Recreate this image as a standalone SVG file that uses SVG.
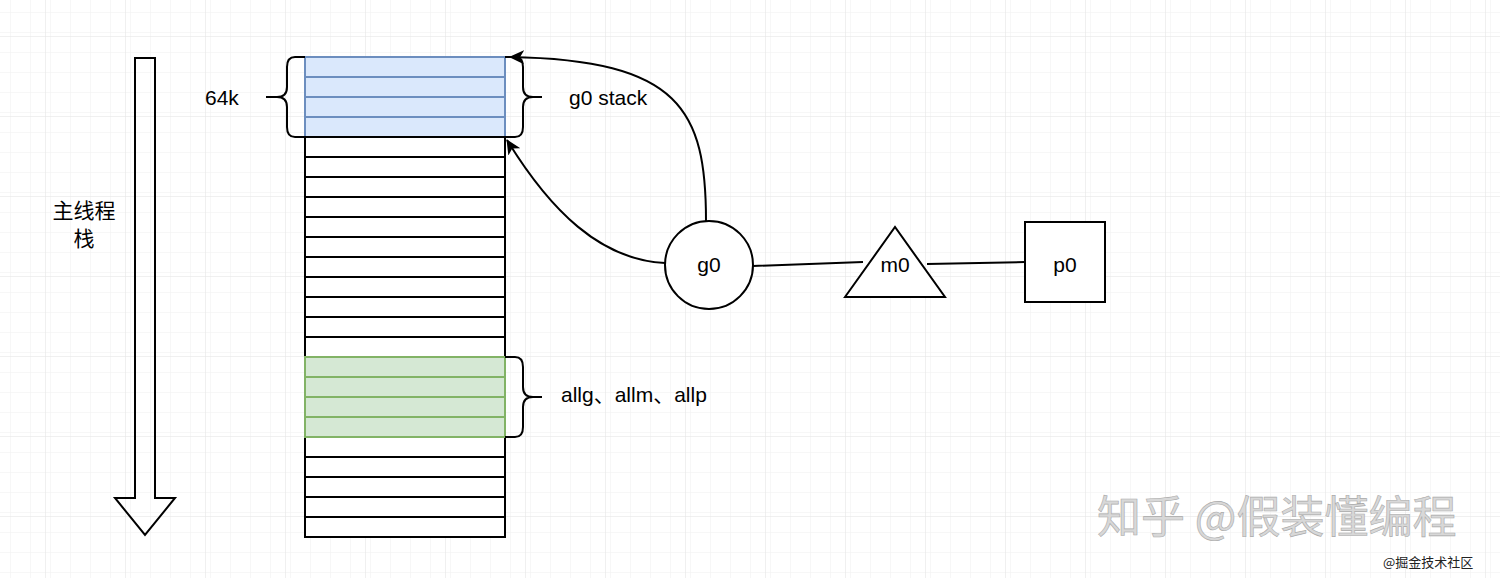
<svg xmlns="http://www.w3.org/2000/svg" width="1500" height="578" viewBox="0 0 1500 578">
<defs>
<pattern id="gm" width="20" height="20" patternUnits="userSpaceOnUse" x="5" y="16"><path d="M0 0H20M0 0V20" fill="none" stroke="#efefef" stroke-width="1"/></pattern>
<pattern id="gM" width="80" height="80" patternUnits="userSpaceOnUse" x="45" y="36"><rect width="80" height="80" fill="url(#gm)"/><path d="M0 0H80M0 0V80" fill="none" stroke="#e2e2e2" stroke-width="1"/></pattern>
<marker id="ar" markerWidth="16" markerHeight="14" refX="14" refY="7" orient="auto" markerUnits="userSpaceOnUse"><path d="M0 0L15 7L0 14L4 7Z" fill="#000"/></marker>
</defs>
<style>
.s{stroke:#000;stroke-width:2;fill:none}
.t{font-family:"Liberation Sans",Arial,"Noto Sans CJK SC",sans-serif;font-size:21px;fill:#000}
.row{fill:#fff;stroke:#000;stroke-width:2}
.b{fill:#dae8fc;stroke:#6c8ebf;stroke-width:2}
.gr{fill:#d5e8d4;stroke:#82b366;stroke-width:2}
</style>
<rect width="1500" height="578" fill="#fff"/>
<rect width="1500" height="578" fill="url(#gM)"/>
<g id="arrow-down"><path d="M135 58H155V498H175L145 535L115 498H135Z" class="s" fill="#fff"/></g>
<g id="label-main"><text class="t" x="84" y="218" text-anchor="middle">主线程</text><text class="t" x="84" y="246" text-anchor="middle">栈</text></g>
<g id="stack">
<rect class="row" x="305" y="57" width="200" height="480"/>
<path class="s" d="M305 157H505M305 177H505M305 197H505M305 217H505M305 237H505M305 257H505M305 277H505M305 297H505M305 317H505M305 337H505M305 457H505M305 477H505M305 497H505M305 517H505"/>
<g id="blue"><rect class="b" x="305" y="57" width="200" height="80"/><path d="M305 77H505M305 97H505M305 117H505" stroke="#6c8ebf" stroke-width="2"/><path class="s" d="M305 137H505"/></g>
<g id="green"><rect class="gr" x="305" y="357" width="200" height="80"/><path d="M305 377H505M305 397H505M305 417H505" stroke="#82b366" stroke-width="2"/></g>
</g>
<g id="brace-64k"><path class="s" d="M305 57H295Q287 57 287 67V87Q287 97 277 97H266M277 97Q287 97 287 107V127Q287 137 295 137H305"/><text class="t" x="205" y="105">64k</text></g>
<g id="brace-g0stack"><path class="s" d="M505 57H515Q523 57 523 67V87Q523 97 533 97H542M533 97Q523 97 523 107V127Q523 137 515 137H505"/><text class="t" x="569" y="105">g0 stack</text></g>
<g id="brace-all"><path class="s" d="M505 357H515Q523 357 523 367V387Q523 397 533 397H542M533 397Q523 397 523 407V427Q523 437 515 437H505"/><text class="t" x="561" y="402">allg、allm、allp</text></g>
<g id="g0"><circle cx="709" cy="265" r="44" fill="#fff" stroke="#000" stroke-width="2"/><text class="t" x="709" y="272" text-anchor="middle">g0</text></g>
<g id="m0"><path d="M845 297L895 227L945 297Z" fill="#fff" stroke="#000" stroke-width="2"/><text class="t" x="895" y="272" text-anchor="middle">m0</text></g>
<g id="p0"><rect x="1025" y="222" width="80" height="80" fill="#fff" stroke="#000" stroke-width="2"/><text class="t" x="1065" y="272" text-anchor="middle">p0</text></g>
<g id="connectors">
<path class="s" d="M706 221C706 110 680 60 510 57" marker-end="url(#ar)"/>
<path class="s" d="M665 263C600 260 550 210 507 140" marker-end="url(#ar)"/>
<path class="s" d="M753 266L863 262M927 264L1025 262"/>
</g>
<g id="watermark" font-family="'Noto Sans CJK SC',sans-serif">
<text x="1097" y="533" font-size="44" fill="#d8d8d8" stroke="#aaa" stroke-width="0.6">知乎 @假装懂编程</text>
<text x="1383" y="567" font-size="13" fill="#222">@掘金技术社区</text>
</g>
</svg>
